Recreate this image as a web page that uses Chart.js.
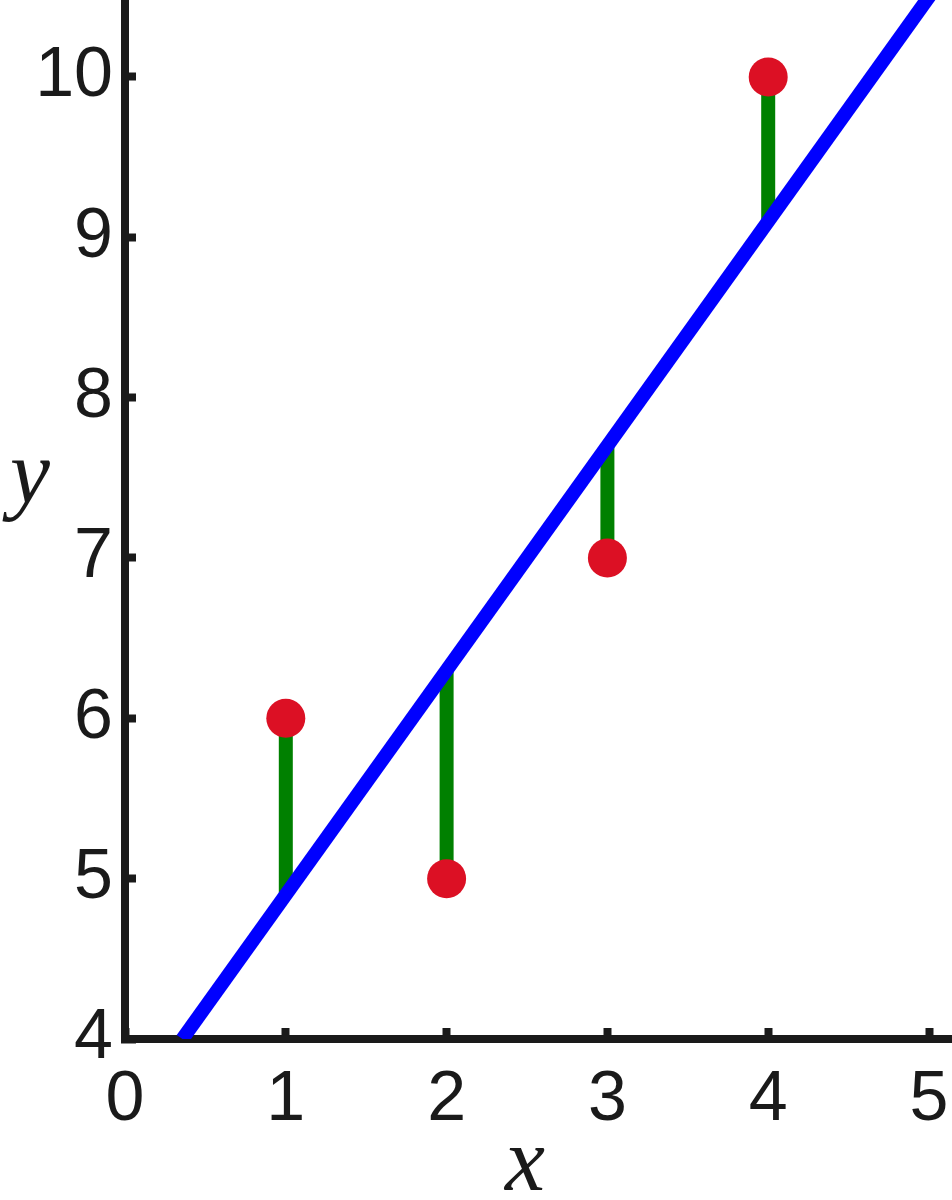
<!DOCTYPE html>
<html>
<head>
<meta charset="utf-8">
<script src="https://cdn.jsdelivr.net/npm/chart.js@4/dist/chart.umd.min.js"></script>
<style>
  html, body { margin: 0; padding: 0; background: #fff; }
  #wrap { width: 952px; height: 1200px; }
</style>
</head>
<body>
<div id="wrap"><canvas id="fitChart"></canvas></div>
<script>
// data points
const ptX = [1, 2, 3, 4];
const ptY = [6, 5, 7, 10];
// fitted value at each data x (end of the residual stems)
const fitAtX = [4.9, 6.3, 7.7, 9.1];
// fitted line end points
const lineX = [0.357, 5.3];
const lineY = [4.0, 10.92];
// axis ticks
const xTicks = [0, 1, 2, 3, 4, 5];
const yTicks = [4, 5, 6, 7, 8, 9, 10];

const ink = '#1a1a1a';

// residual stems, separated by gaps
const stems = [];
for (let i = 0; i < ptX.length; i++) {
    stems.push({ x: ptX[i], y: ptY[i] });
    stems.push({ x: ptX[i], y: fitAtX[i] });
    stems.push({ x: ptX[i], y: null });
}

// no extra room for edge labels, the plot runs to the canvas edges
function noPad(s) {
    s.paddingTop = 0;
    s.paddingBottom = 0;
    s.paddingLeft = 0;
    s.paddingRight = 0;
}

// axis titles x and y (upright italic, as in the reference)
const axisTitles = {
    id: 'axisTitles',
    afterDraw(chart) {
        const ctx = chart.ctx;
        ctx.save();
        ctx.fillStyle = ink;
        ctx.font = 'italic 90px "Liberation Serif", "DejaVu Serif", serif';
        ctx.textAlign = 'center';
        ctx.textBaseline = 'alphabetic';
        ctx.fillText('x', 525, 1190);
        ctx.fillText('y', 30, 503);
        ctx.restore();
    }
};

new Chart(document.getElementById('fitChart'), {
    type: 'scatter',
    data: {
        datasets: [
            {
                label: 'data',
                data: ptX.map((x, i) => ({ x: x, y: ptY[i] })),
                backgroundColor: 'rgb(220,16,36)',
                borderWidth: 0,
                pointRadius: 19.5,
                pointHoverRadius: 19.5,
                showLine: false
            },
            {
                label: 'fit',
                data: lineX.map((x, i) => ({ x: x, y: lineY[i] })),
                borderColor: '#0000ff',
                borderWidth: 14,
                pointRadius: 0,
                showLine: true,
                borderCapStyle: 'butt'
            },
            {
                label: 'residuals',
                data: stems,
                borderColor: '#008000',
                borderWidth: 14,
                pointRadius: 0,
                showLine: true,
                spanGaps: false,
                borderCapStyle: 'butt'
            }
        ]
    },
    options: {
        responsive: true,
        maintainAspectRatio: false,
        animation: false,
        devicePixelRatio: 1,
        layout: { padding: 0, autoPadding: false },
        plugins: {
            legend: { display: false },
            tooltip: { enabled: false }
        },
        scales: {
            x: {
                type: 'linear',
                min: 0,
                max: 5.143,
                afterFit: (s) => { s.height = 161; noPad(s); },
                afterBuildTicks: (s) => { s.ticks = xTicks.map(v => ({ value: v })); },
                border: { display: true, color: ink, width: 8 },
                grid: {
                    drawOnChartArea: false,
                    drawTicks: true,
                    tickLength: -11,
                    tickWidth: 8,
                    tickColor: ink,
                    color: ink
                },
                ticks: {
                    color: ink,
                    padding: 31,
                    maxRotation: 0,
                    font: { family: '"Liberation Sans", Arial, sans-serif', size: 70 }
                }
            },
            y: {
                type: 'linear',
                min: 4,
                max: 10.48,
                afterFit: (s) => { s.width = 125; noPad(s); },
                afterBuildTicks: (s) => { s.ticks = yTicks.map(v => ({ value: v })); },
                border: { display: true, color: ink, width: 8 },
                grid: {
                    drawOnChartArea: false,
                    drawTicks: true,
                    tickLength: -11,
                    tickWidth: 8,
                    tickColor: ink,
                    color: ink
                },
                ticks: {
                    color: ink,
                    padding: 23,
                    font: { family: '"Liberation Sans", Arial, sans-serif', size: 70 }
                }
            }
        }
    },
    plugins: [axisTitles]
});
</script>
</body>
</html>
